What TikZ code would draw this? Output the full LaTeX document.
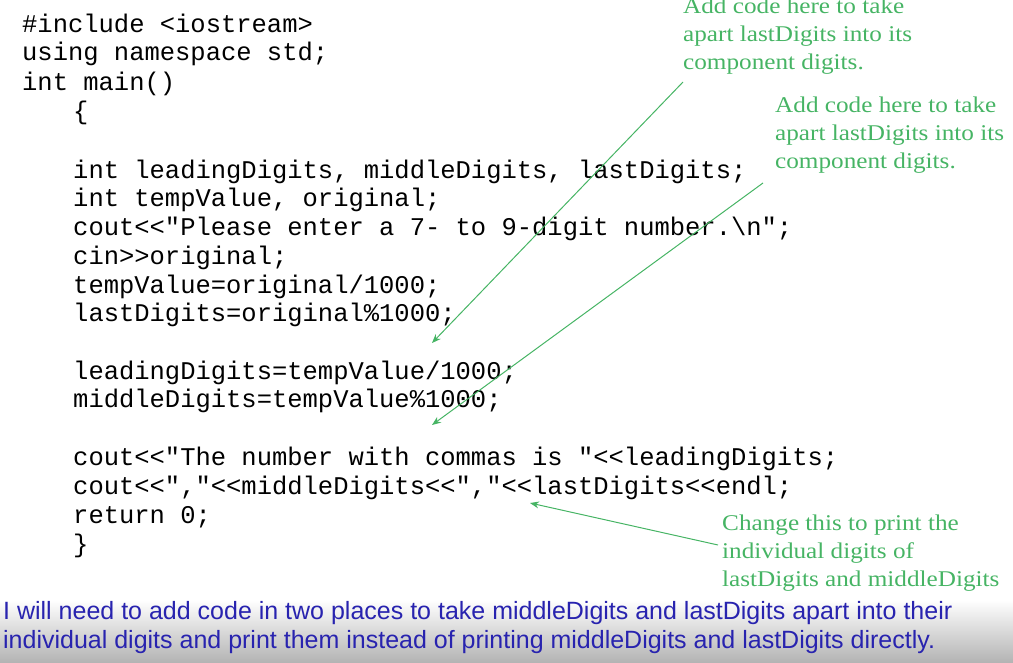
\documentclass[tikz,border=0pt]{standalone}
\usepackage{fontspec}
\setmainfont{Liberation Serif}[FakeStretch=1.12]
\newfontfamily\codefont{Liberation Mono}
\newfontfamily\bluefont{Liberation Sans}
\usetikzlibrary{arrows.meta}
\definecolor{gr}{RGB}{70,180,100}
\definecolor{bl}{RGB}{40,35,175}
\tikzset{
 code/.style={anchor=west,inner sep=0pt,font=\codefont\fontsize{25.5}{28}\selectfont},
 note/.style={anchor=base west,inner sep=0pt,align=left,text=gr,font=\fontsize{22.5}{28}\selectfont},
 blue/.style={anchor=base west,inner sep=0pt,align=left,text=bl,font=\bluefont\fontsize{25}{28.5}\selectfont},
 arr/.style={draw=gr,line width=1pt,-{Stealth[length=9pt,width=7pt]}}
}
\begin{document}
\begin{tikzpicture}[x=1pt,y=-1pt]
\shade[top color=white,bottom color=black!30] (0,600) rectangle (1013,663);
\useasboundingbox (0,0) rectangle (1013,663);
\node[code] (l1) at (22,23) {\#include <iostream>};
\node[code] (l2) at (22,54) {using namespace std;};
\node[code] (l3) at (22,84) {int main()};
\node[code] (l4) at (73,113) {\{};
\node[code] (l6) at (73,172) {int leadingDigits, middleDigits, lastDigits;};
\node[code] (l7) at (73,200) {int tempValue, original;};
\node[code] (l8) at (73,229) {cout<<"Please enter a 7- to 9-digit number.\textbackslash n";};
\node[code] (l9) at (73,258) {cin>>original;};
\node[code] (l10) at (73,287) {tempValue=original/1000;};
\node[code] (l11) at (73,315) {lastDigits=original\%1000;};
\node[code] (l13) at (73,373) {leadingDigits=tempValue/1000;};
\node[code] (l14) at (73,401) {middleDigits=tempValue\%1000;};
\node[code] (l16) at (73,459) {cout<<"The number with commas is "<<leadingDigits;};
\node[code] (l17) at (73,488) {cout<<","<<middleDigits<<","<<lastDigits<<endl;};
\node[code] (l18) at (73,517) {return 0;};
\node[code] (l19) at (73,546) {\}};
\node[note] (n1) at (683,70) {Add code here to take\\apart lastDigits into its\\component digits.};
\node[note] (n2) at (775,169) {Add code here to take\\apart lastDigits into its\\component digits.};
\node[note] (n3) at (722,586) {Change this to print the\\individual digits of\\lastDigits and middleDigits};
\coordinate (t1) at (432,343);
\coordinate (t2) at (432,425);
\coordinate (t3) at (530,503);
\coordinate (s1) at (683,82);
\coordinate (s2) at (763,183);
\coordinate (s3) at (718,545);
\draw[arr] (s1) -- (t1);
\draw[arr] (s2) -- (t2);
\draw[arr] (s3) -- (t3);
\node[blue] (b) at (3,648) {I will need to add code in two places to take middleDigits and lastDigits apart into their\\individual digits and print them instead of printing middleDigits and lastDigits directly.};
\end{tikzpicture}
\end{document}
